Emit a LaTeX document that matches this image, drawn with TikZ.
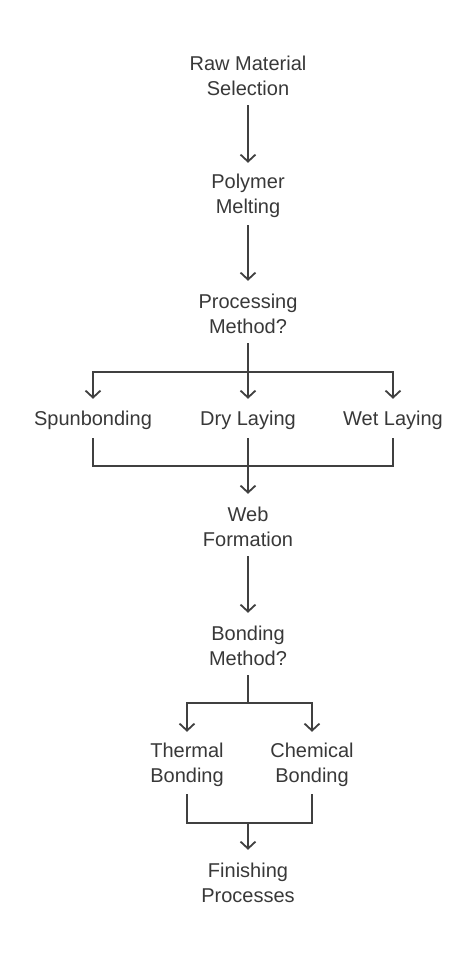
\documentclass[tikz,border=0pt]{standalone}
\usepackage{fontspec}
\setmainfont{Liberation Sans}
\usetikzlibrary{arrows.meta}
\definecolor{txt}{HTML}{383838}
\definecolor{ln}{HTML}{404040}
\tikzset{
  two/.style={inner sep=0pt, minimum height=59pt, align=center, text=txt,
    font=\fontsize{20pt}{25pt}\selectfont},
  one/.style={inner sep=0pt, minimum height=36pt, align=center, text=txt,
    font=\fontsize{20pt}{25pt}\selectfont},
  conn/.style={draw=ln, line width=1.8pt},
  arr/.style={conn, -{Straight Barb[length=7pt,width=15pt,line width=1.8pt]}, shorten >=3pt},
}
\begin{document}
\begin{tikzpicture}[x=1pt,y=-1pt]
\useasboundingbox (0,0) rectangle (474,958);
\node[two] (raw) at (248,75.5) {Raw Material\\Selection};
\node[two] (poly) at (248,195.5) {Polymer\\Melting};
\node[two] (proc) at (248,313.5) {Processing\\Method?};
\node[one] (spun) at (93,420) {Spunbonding};
\node[one] (dry) at (248,420) {Dry Laying};
\node[one] (wet) at (393,420) {Wet Laying};
\node[two] (web) at (248,526.5) {Web\\Formation};
\node[two] (bond) at (248,645.5) {Bonding\\Method?};
\node[two] (therm) at (187,764.5) {Thermal\\Bonding};
\node[two] (chem) at (312,764.5) {Chemical\\Bonding};
\node[two] (fin) at (248,882.5) {Finishing\\Processes};
\coordinate (j1) at (248,372);
\coordinate (j2) at (248,466);
\coordinate (j3) at (248,703);
\coordinate (j4) at (248,823);
\draw[arr] (raw.south) -- (poly.north);
\draw[arr] (poly.south) -- (proc.north);
\draw[arr] (proc.south) -- (dry.north);
\draw[arr] (j1) -| (spun.north);
\draw[arr] (j1) -| (wet.north);
\draw[conn] (spun.south) |- (j2);
\draw[conn] (wet.south) |- (j2);
\draw[arr] (dry.south) -- (web.north);
\draw[arr] (web.south) -- (bond.north);
\draw[conn] (bond.south) -- (j3);
\draw[arr] (j3) -| (therm.north);
\draw[arr] (j3) -| (chem.north);
\draw[conn] (therm.south) |- (j4);
\draw[conn] (chem.south) |- (j4);
\draw[arr] (j4) -- (fin.north);
\end{tikzpicture}
\end{document}
